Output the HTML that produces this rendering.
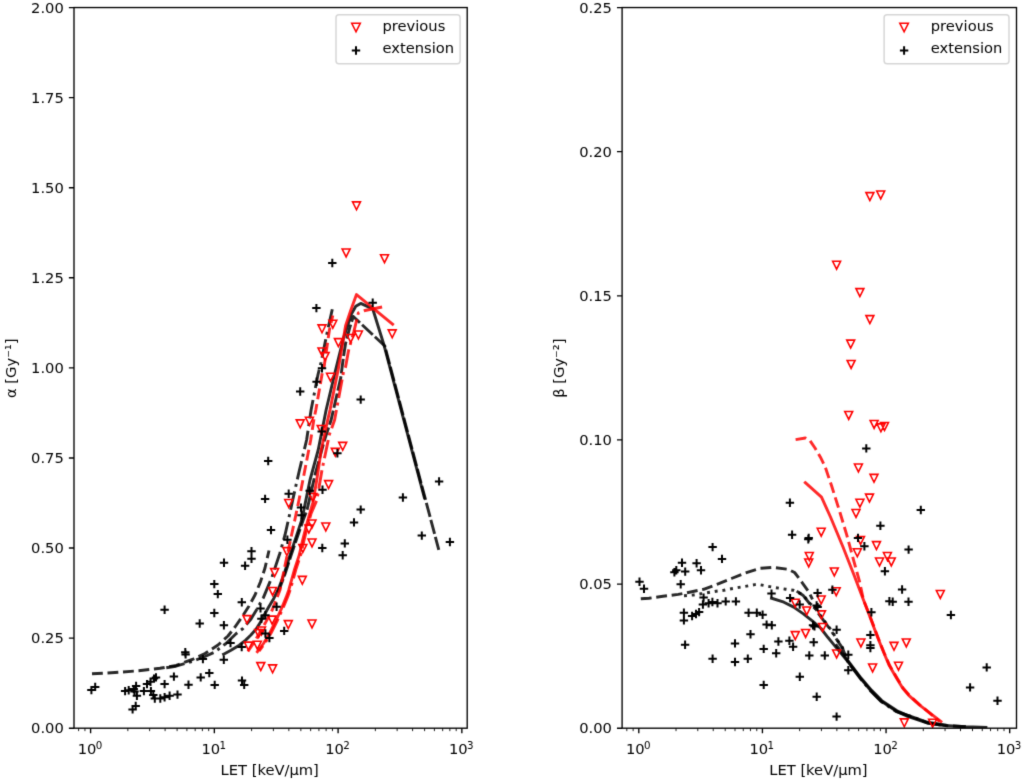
<!DOCTYPE html>
<html><head><meta charset="utf-8"><title>alpha beta vs LET</title>
<style>html,body{margin:0;padding:0;background:#fff;}svg{display:block;}</style></head>
<body><svg width="1025" height="781" viewBox="0 0 1025 781">
<filter id="soft" x="0" y="0" width="1" height="1" color-interpolation-filters="sRGB"><feConvolveMatrix order="3" kernelMatrix="0.0144 0.0912 0.0144 0.0912 0.5776 0.0912 0.0144 0.0912 0.0144" edgeMode="duplicate"/></filter>
<g filter="url(#soft)">
<rect x="0" y="0" width="1025" height="781" fill="#fff"/>
<clipPath id="clipL"><rect x="74" y="7.55" width="393.2" height="720.65"/></clipPath>
<g clip-path="url(#clipL)" fill="none" stroke-width="2.93" stroke-linejoin="round">
<path d="M92 673.8 L115 672.5 L138.7 670.8 L160 668.3 L176.2 665.4 L192.3 659.5 L205 653.5 L218 645 L228 636 L235 627 L242 617 L249 606 L255 595 L260.4 582 L265 568 L269 550.5" stroke="#000000" stroke-opacity="0.84" stroke-dasharray="10.84,4.69" stroke-linecap="butt"/>
<path d="M163 668.3 L176 666.2 L192 661.5 L205 656.5 L214 652.5 L226 643.5 L236.3 633.5 L243 628.5 L251 619 L257 609 L263.4 597.6 L272 577 L279.8 553.5 L285 535 L289.2 516.3 L292.7 500 L299 472 L306.6 440 L311.1 410 L317.9 375 L321 362.6 L325.6 340.1 L327.7 330 L332.3 309.3" stroke="#000000" stroke-opacity="0.84" stroke-dasharray="18.75,4.69,2.93,4.69" stroke-dashoffset="27.76" stroke-linecap="butt"/>
<path d="M223.6 654.2 L231 650.3 L239.3 645.2 L245.7 640.1 L250.9 635 L256 629.2 L259.8 623.4 L264.9 613.8 L268.7 607 L273.8 598.4 L278.5 589 L284.2 573.7 L290 555.3 L296.9 534.6 L301.5 520.7 L303.5 511.7 L310 480 L318.2 450 L326.1 410 L335.6 370 L343.5 338 L351.7 313.4 L355.8 306.3 L360.7 303.4 L372.7 308.8 L384.2 345.8 L424.4 497.8" stroke="#000000" stroke-opacity="0.84" stroke-linecap="square"/>
<path d="M276.6 594.5 L279.3 589.2 L285 574 L291 555.5 L298 535 L303 520.5 L307.1 509.7 L315 475 L324.5 440 L331.1 420 L340.7 378.2 L343.5 356.5 L345.6 343.2 L349.7 327.8 L353.3 316.5 L384.8 346 L438.8 549.9" stroke="#000000" stroke-opacity="0.84" stroke-dasharray="14.65,2.93" stroke-dashoffset="15.3" stroke-linecap="butt"/>
<path d="M247.9 651.5 L253.3 643.4 L261.4 630 L265.9 621.9 L272.1 610.2 L280 590 L286 560.7 L294.8 520 L299 500 L310.7 440 L313.8 420 L315.8 410 L322.8 370 L324.1 366.7 L329.4 330 L332.8 315.5" stroke="#ff0000" stroke-opacity="0.84" stroke-dasharray="10.84,4.69" stroke-linecap="butt"/>
<path d="M257.4 651.7 L263.5 643.5 L269.7 633.2 L275.8 621 L281 609.7 L286.1 597.4 L288.8 590 L294.6 569.1 L299.2 555.3 L302.6 540.3 L306.1 526.5 L309.6 513.8 L313 502.3 L316.9 479 L321.2 450 L327.7 420 L330 410 L338.1 370 L345.6 325.7 L350.7 310.4 L356.5 294.6 L392.6 324.2" stroke="#ff0000" stroke-opacity="0.84" stroke-linecap="square"/>
<path d="M259 651 L265 643 L271.2 632.8 L277.3 620.6 L282.5 609.3 L287.6 597 L290.3 589.6 L296.1 568.7 L300.7 554.9 L304.1 539.9 L307.6 526.1 L311.1 513.4 L316.9 500 L322 470 L327.6 443.1 L329.4 434.5 L334.6 420 L343.3 373.1 L345.6 366.7 L348.6 350.3 L353.8 331.9 L358.4 312.9 L365 310.5 L382.7 306.9" stroke="#ff0000" stroke-opacity="0.84" stroke-dasharray="18.75,4.69,2.93,4.69" stroke-dashoffset="12.2" stroke-linecap="butt"/>
</g>
<g clip-path="url(#clipL)">
<path d="M356.5 209.75L352.55 201.85L360.45 201.85ZM346.1 256.95L342.15 249.05L350.05 249.05ZM384.5 262.65L380.55 254.75L388.45 254.75ZM322 332.75L318.05 324.85L325.95 324.85ZM332.8 328.15L328.85 320.25L336.75 320.25ZM322 355.85L318.05 347.95L325.95 347.95ZM325.1 360.45L321.15 352.55L329.05 352.55ZM338.4 346.55L334.45 338.65L342.35 338.65ZM350.7 342.45L346.75 334.55L354.65 334.55ZM358.4 338.95L354.45 331.05L362.35 331.05ZM392.2 337.75L388.25 329.85L396.15 329.85ZM330.5 381.15L326.55 373.25L334.45 373.25ZM300.2 427.75L296.25 419.85L304.15 419.85ZM309.4 425.15L305.45 417.25L313.35 417.25ZM321.2 433.35L317.25 425.45L325.15 425.45ZM342.7 450.25L338.75 442.35L346.65 442.35ZM335.3 456.25L331.35 448.35L339.25 448.35ZM328.6 488.55L324.65 480.65L332.55 480.65ZM312.8 501.35L308.85 493.45L316.75 493.45ZM288.7 507.45L284.75 499.55L292.65 499.55ZM325.8 530.95L321.85 523.05L329.75 523.05ZM312 527.95L308.05 520.05L315.95 520.05ZM308.9 533.05L304.95 525.15L312.85 525.15ZM312 546.85L308.05 538.95L315.95 538.95ZM302.8 552.45L298.85 544.55L306.75 544.55ZM286.9 555.55L282.95 547.65L290.85 547.65ZM274.6 576.55L270.65 568.65L278.55 568.65ZM302.3 584.25L298.35 576.35L306.25 576.35ZM272.6 595.35L268.65 587.45L276.55 587.45ZM247 623.55L243.05 615.65L250.95 615.65ZM272.1 624.05L268.15 616.15L276.05 616.15ZM288.3 628.55L284.35 620.65L292.25 620.65ZM258.7 637.45L254.75 629.55L262.65 629.55ZM261.5 634.95L257.55 627.05L265.45 627.05ZM248.4 650.05L244.45 642.15L252.35 642.15ZM257.3 649.15L253.35 641.25L261.25 641.25ZM260.8 670.55L256.85 662.65L264.75 662.65ZM272.6 672.75L268.65 664.85L276.55 664.85ZM312 627.95L308.05 620.05L315.95 620.05Z" fill="none" stroke="#ff0000" stroke-width="1.6" stroke-linejoin="miter"/>
<path d="M87.2 690.1H95.6M91.4 685.9V694.3M91 686.9H99.4M95.2 682.7V691.1M120.9 691.1H129.3M125.1 686.9V695.3M124.5 690.3H132.9M128.7 686.1V694.5M129.5 689.1H137.9M133.7 684.9V693.3M131.9 686H140.3M136.1 681.8V690.2M130.3 691.5H138.7M134.5 687.3V695.7M132.7 695.8H141.1M136.9 691.6V700M128.4 709.4H136.8M132.6 705.2V713.6M131.5 705.9H139.9M135.7 701.7V710.1M139.7 691.1H148.1M143.9 686.9V695.3M142.8 684.1H151.2M147 679.9V688.3M146.3 681.7H154.7M150.5 677.5V685.9M149.8 678.6H158.2M154 674.4V682.8M151.8 677.4H160.2M156 673.2V681.6M146.7 691.1H155.1M150.9 686.9V695.3M149.1 695H157.5M153.3 690.8V699.2M150.6 698.5H159M154.8 694.3V702.7M156.1 698.5H164.5M160.3 694.3V702.7M160.4 697.3H168.8M164.6 693.1V701.5M165.4 695.8H173.8M169.6 691.6V700M173.3 694.6H181.7M177.5 690.4V698.8M160.4 684.1H168.8M164.6 679.9V688.3M169.7 676.6H178.1M173.9 672.4V680.8M184.3 684.8H192.7M188.5 680.6V689M181.1 652.3H189.5M185.3 648.1V656.5M181.4 654.4H189.8M185.6 650.2V658.6M160.4 609.8H168.8M164.6 605.6V614M195.5 623.5H203.9M199.7 619.3V627.7M210.1 584.1H218.5M214.3 579.9V588.3M213.6 594.1H222M217.8 589.9V598.3M210.1 613H218.5M214.3 608.8V617.2M219.8 562.8H228.2M224 558.6V567M240.9 565.8H249.3M245.1 561.6V570M247.3 551.3H255.7M251.5 547.1V555.5M247.3 558.7H255.7M251.5 554.5V562.9M237.6 602.2H246M241.8 598V606.4M219.7 625.3H228.1M223.9 621.1V629.5M256.3 608.4H264.7M260.5 604.2V612.6M261.2 615.2H269.6M265.4 611V619.4M257.2 618.8H265.6M261.4 614.6V623M272.4 606.7H280.8M276.6 602.5V610.9M280 630.9H288.4M284.2 626.7V635.1M261.2 633.5H269.6M265.4 629.3V637.7M265.2 638H273.6M269.4 633.8V642.2M226.3 643H234.7M230.5 638.8V647.2M237.5 647H245.9M241.7 642.8V651.2M198.7 659.1H207.1M202.9 654.9V663.3M219.6 659.7H228M223.8 655.5V663.9M196.5 677.4H204.9M200.7 673.2V681.6M205.1 673.1H213.5M209.3 668.9V677.3M210.5 684.9H218.9M214.7 680.7V689.1M237.8 680.6H246.2M242 676.4V684.8M240 684.9H248.4M244.2 680.7V689.1M260.9 498.9H269.3M265.1 494.7V503.1M264 461H272.4M268.2 456.8V465.2M284.5 493.8H292.9M288.7 489.6V498M296 391.5H304.4M300.2 387.3V395.7M305.5 490.7H313.9M309.7 486.5V494.9M318.3 489.7H326.7M322.5 485.5V493.9M312.4 381.8H320.8M316.6 377.6V386M296.8 507.6H305.2M301 503.4V511.8M297.3 515.3H305.7M301.5 511.1V519.5M283.2 539.8H291.6M287.4 535.6V544M266.8 530.1H275.2M271 525.9V534.3M318.1 548H326.5M322.3 543.8V552.2M340.6 543.4H349M344.8 539.2V547.6M338.5 555.2H346.9M342.7 551V559.4M349.8 522.4H358.2M354 518.2V526.6M356.5 509.6H364.9M360.7 505.4V513.8M333.2 453.3H341.6M337.4 449.1V457.5M317.5 431.5H325.9M321.7 427.3V435.7M317.8 368.3H326.2M322 364.1V372.5M312.2 308.1H320.6M316.4 303.9V312.3M328.1 263H336.5M332.3 258.8V267.2M368.5 302.7H376.9M372.7 298.5V306.9M356.5 399.6H364.9M360.7 395.4V403.8M398.7 497.5H407.1M402.9 493.3V501.7M434.9 481.4H443.3M439.1 477.2V485.6M417.6 535.6H426M421.8 531.4V539.8M445.7 542H454.1M449.9 537.8V546.2" fill="none" stroke="#000" stroke-width="2.0"/>
</g>
<rect x="74" y="7.55" width="393.2" height="720.65" fill="none" stroke="#000" stroke-width="1.35" stroke-linejoin="miter"/>
<path d="M90.6 728.2V733.33M214.35 728.2V733.33M338.1 728.2V733.33M461.85 728.2V733.33M74 728.2H68.87M74 638.12H68.87M74 548.04H68.87M74 457.96H68.87M74 367.88H68.87M74 277.79H68.87M74 187.71H68.87M74 97.63H68.87M74 7.55H68.87" stroke="#000" stroke-width="1.35"/>
<path d="M78.61 728.2V731.13M84.94 728.2V731.13M127.85 728.2V731.13M149.64 728.2V731.13M165.1 728.2V731.13M177.1 728.2V731.13M186.9 728.2V731.13M195.18 728.2V731.13M202.36 728.2V731.13M208.69 728.2V731.13M251.6 728.2V731.13M273.39 728.2V731.13M288.85 728.2V731.13M300.85 728.2V731.13M310.65 728.2V731.13M318.93 728.2V731.13M326.11 728.2V731.13M332.44 728.2V731.13M375.35 728.2V731.13M397.14 728.2V731.13M412.6 728.2V731.13M424.6 728.2V731.13M434.4 728.2V731.13M442.68 728.2V731.13M449.86 728.2V731.13M456.19 728.2V731.13" stroke="#000" stroke-width="0.88"/>
<g font-family="DejaVu Sans, Liberation Sans, sans-serif" font-size="14.7" fill="#000">
<text x="63.8" y="733.3" text-anchor="end">0.00</text>
<text x="63.8" y="643.22" text-anchor="end">0.25</text>
<text x="63.8" y="553.14" text-anchor="end">0.50</text>
<text x="63.8" y="463.06" text-anchor="end">0.75</text>
<text x="63.8" y="372.98" text-anchor="end">1.00</text>
<text x="63.8" y="282.89" text-anchor="end">1.25</text>
<text x="63.8" y="192.81" text-anchor="end">1.50</text>
<text x="63.8" y="102.73" text-anchor="end">1.75</text>
<text x="63.8" y="12.65" text-anchor="end">2.00</text>
<text x="90" y="753.7" text-anchor="middle">10<tspan font-size="10.29" dx="-0.6" dy="-4.8">0</tspan></text>
<text x="213.75" y="753.7" text-anchor="middle">10<tspan font-size="10.29" dx="-0.6" dy="-4.8">1</tspan></text>
<text x="337.5" y="753.7" text-anchor="middle">10<tspan font-size="10.29" dx="-0.6" dy="-4.8">2</tspan></text>
<text x="461.25" y="753.7" text-anchor="middle">10<tspan font-size="10.29" dx="-0.6" dy="-4.8">3</tspan></text>
<text x="269.7" y="775.4" text-anchor="middle">LET [keV/μm]</text>
<text transform="translate(16.2 368.25) rotate(-90)" x="0" y="0" text-anchor="middle">α [Gy⁻¹]</text>
</g>
<rect x="336" y="14.8" width="124.1" height="48.85" rx="2.94" ry="2.94" fill="#fff" fill-opacity="0.8" stroke="#d6d6d6" stroke-width="1.47"/>
<path d="M356 31.75L351.75 23.25L360.25 23.25Z" fill="none" stroke="#ff0000" stroke-width="1.6"/>
<path d="M351.8 50.5H360.2M356 46.3V54.7" fill="none" stroke="#000" stroke-width="2.0"/>
<g font-family="DejaVu Sans, Liberation Sans, sans-serif" font-size="14.7" fill="#000">
<text x="382.5" y="31.0">previous</text>
<text x="382.5" y="53.0">extension</text>
</g>
<clipPath id="clipR"><rect x="622.1" y="7.55" width="394.4" height="720.65"/></clipPath>
<g clip-path="url(#clipR)" fill="none" stroke-width="2.93" stroke-linejoin="round">
<path d="M836.5 645.5 L848.8 662 L861.2 678.3 L871.6 690.4 L881.8 700.6 L897 710.8 L908 715.5 L927.6 722.3 L945 725" stroke="#000000" stroke-opacity="0.84" stroke-linecap="square"/>
<path d="M640.8 598.8 L649 598.2 L663 596.3 L678.2 594.4 L688.3 592.5 L703.6 589.3 L718.8 583.6 L731.5 578.5 L744.1 573.5 L759.4 568.4 L772.8 567.4 L788.2 569.3 L794.6 572.5 L802.3 582.8 L808.7 591.7 L812.5 599.4" stroke="#000000" stroke-opacity="0.84" stroke-dasharray="10.84,4.69" stroke-linecap="butt"/>
<path d="M684 595.7 L693.4 595 L701 593.8 L716.2 591.2 L723.8 590.3 L731.5 588.7 L739.1 587.4 L746.7 586.1 L754.9 584.6 L760 584.7 L772.8 587.2 L785.6 589.2 L793.1 590.2 L802.9 594.7 L810.1 603.7 L814.6 607.3 L820.9 616.2 L826.2 623.4 L831.6 630.6 L837 639.5 L842.4 647.4 L848.3 662.5" stroke="#000000" stroke-opacity="0.84" stroke-dasharray="2.93,4.83" stroke-linecap="butt"/>
<path d="M796.7 591.1 L802.9 595.2 L810.1 604.2 L814.6 608 L820.9 616.8 L826.2 624 L831.6 631.2 L837 640 L842.4 648 L848.3 662.5 L860.6 678.9 L870.9 691.2 L881.1 701.5 L896.5 711.7 L915 717.8 L927.6 723 L944.3 725.5 L965.9 726.7" stroke="#000000" stroke-opacity="0.84" stroke-dasharray="18.75,4.69,2.93,4.69" stroke-linecap="butt"/>
<path d="M771.6 598.2 L783.9 602.2 L793.7 607.1 L803.4 613.9 L813.2 621.7 L821 628.5 L827.8 637.3 L833.6 644.4 L848.3 662.1 L860.6 678.4 L870.9 690.8 L881.1 701.1 L896.5 711.4 L907.6 716.3 L927.6 723 L944.3 725.5 L965.9 726.7 L985.9 727.3" stroke="#000000" stroke-opacity="0.84" stroke-linecap="square"/>
<path d="M805.3 482.7 L821.5 497.2 L830.5 517 L843 547 L854 575 L863.5 600 L870 617 L877.5 637 L883.5 652 L889.3 665.6 L896.5 677.9 L902.6 688.1 L908.8 695.3 L919.3 704.9 L940.9 721.5" stroke="#ff0000" stroke-opacity="0.84" stroke-linecap="square"/>
<path d="M795.6 439.6 L805.4 438 L810 440.7 L815 448 L820.3 456.9 L824.9 466.1 L831.9 486.8 L839.9 512.2 L846.8 535.2 L853.7 560.6 L859.5 581.3 L863.5 600 L870.5 617.5 L878 637.5 L884 652.5 L889.8 665.8 L897 678 L903 688 L909 695 L919.5 704.5 L939.5 721.3" stroke="#ff0000" stroke-opacity="0.84" stroke-dasharray="10.84,4.69" stroke-linecap="butt"/>
</g>
<g clip-path="url(#clipR)">
<path d="M869.9 200.55L865.95 192.65L873.85 192.65ZM880.7 198.95L876.75 191.05L884.65 191.05ZM836.6 269.15L832.65 261.25L840.55 261.25ZM859.9 296.55L855.95 288.65L863.85 288.65ZM869.9 323.55L865.95 315.65L873.85 315.65ZM850.7 348.05L846.75 340.15L854.65 340.15ZM851.1 368.35L847.15 360.45L855.05 360.45ZM848.7 419.35L844.75 411.45L852.65 411.45ZM874.1 428.35L870.15 420.45L878.05 420.45ZM880.9 431.75L876.95 423.85L884.85 423.85ZM884.5 430.45L880.55 422.55L888.45 422.55ZM858.4 471.95L854.45 464.05L862.35 464.05ZM874 482.25L870.05 474.35L877.95 474.35ZM869.5 502.05L865.55 494.15L873.45 494.15ZM859.9 507.15L855.95 499.25L863.85 499.25ZM856 517.45L852.05 509.55L859.95 509.55ZM821.2 536.15L817.25 528.25L825.15 528.25ZM809.3 560.45L805.35 552.55L813.25 552.55ZM808.7 566.85L804.75 558.95L812.65 558.95ZM834.3 575.85L830.35 567.95L838.25 567.95ZM836.2 595.65L832.25 587.75L840.15 587.75ZM821.2 603.95L817.25 596.05L825.15 596.05ZM795.2 607.15L791.25 599.25L799.15 599.25ZM806.7 614.85L802.75 606.95L810.65 606.95ZM821.5 618.75L817.55 610.85L825.45 610.85ZM860.5 544.45L856.55 536.55L864.45 536.55ZM857.3 556.65L853.35 548.75L861.25 548.75ZM876.5 549.55L872.55 541.65L880.45 541.65ZM879.5 565.95L875.55 558.05L883.45 558.05ZM887.4 560.45L883.45 552.55L891.35 552.55ZM795.3 639.55L791.35 631.65L799.25 631.65ZM805.6 637.35L801.65 629.45L809.55 629.45ZM822.6 631.45L818.65 623.55L826.55 623.55ZM836.6 657.95L832.65 650.05L840.55 650.05ZM860.9 646.95L856.95 639.05L864.85 639.05ZM872.6 671.95L868.65 664.05L876.55 664.05ZM894 650.25L890.05 642.35L897.95 642.35ZM906.3 646.85L902.35 638.95L910.25 638.95ZM898.5 670.15L894.55 662.25L902.45 662.25ZM904.3 726.75L900.35 718.85L908.25 718.85ZM932.6 727.15L928.65 719.25L936.55 719.25ZM891.3 565.85L887.35 557.95L895.25 557.95ZM940.3 598.45L936.35 590.55L944.25 590.55Z" fill="none" stroke="#ff0000" stroke-width="1.6" stroke-linejoin="miter"/>
<path d="M635.3 581.7H643.7M639.5 577.5V585.9M639.8 588.7H648.2M644 584.5V592.9M677.8 562.7H686.2M682 558.5V566.9M670.2 572.2H678.6M674.4 568V576.4M672.1 570.3H680.5M676.3 566.1V574.5M681 571.6H689.4M685.2 567.4V575.8M692.4 563.3H700.8M696.6 559.1V567.5M696.8 570.3H705.2M701 566.1V574.5M676.5 584.2H684.9M680.7 580V588.4M717.8 558.9H726.2M722 554.7V563.1M679.7 612.8H688.1M683.9 608.6V617M679.7 620.4H688.1M683.9 616.2V624.6M687.9 616H696.3M692.1 611.8V620.2M691.8 614H700.2M696 609.8V618.2M694.9 612.1H703.3M699.1 607.9V616.3M699.4 597.6H707.8M703.6 593.4V601.8M698.7 604.5H707.1M702.9 600.3V608.7M704.4 603.3H712.8M708.6 599.1V607.5M708.2 602H716.6M712.4 597.8V606.2M713.3 603.3H721.7M717.5 599.1V607.5M721.5 601.4H729.9M725.7 597.2V605.6M731.7 601.4H740.1M735.9 597.2V605.6M744.4 612.8H752.8M748.6 608.6V617M752.6 612.8H761M756.8 608.6V617M746.3 634.3H754.7M750.5 630.1V638.5M680.9 644.7H689.3M685.1 640.5V648.9M708.4 658.8H716.8M712.6 654.6V663M730.8 643.4H739.2M735 639.2V647.6M730.8 662H739.2M735 657.8V666.2M743.6 658.8H752M747.8 654.6V663M708.4 547.1H716.8M712.6 542.9V551.3M785.7 502.7H794.1M789.9 498.5V506.9M787.9 534.7H796.3M792.1 530.5V538.9M862.1 448.4H870.5M866.3 444.2V452.6M804.5 537.9H812.9M808.7 533.7V542.1M804.1 539.3H812.5M808.3 535.1V543.5M853.8 537.9H862.2M858 533.7V542.1M860.2 546.3H868.6M864.4 542.1V550.5M876.2 525.8H884.6M880.4 521.6V530M880.7 571.2H889.1M884.9 567V575.4M767.3 593.6H775.7M771.5 589.4V597.8M785.9 598.1H794.3M790.1 593.9V602.3M795.5 604.5H803.9M799.7 600.3V608.7M813.4 593H821.8M817.6 588.8V597.2M828.2 589.8H836.6M832.4 585.6V594M813.4 607.1H821.8M817.6 602.9V611.3M812.4 605.4H820.8M816.6 601.2V609.6M758.4 614.8H766.8M762.6 610.6V619M867.2 612.2H875.6M871.4 608V616.4M885.2 601.3H893.6M889.4 597.1V605.5M762.4 624.6H770.8M766.6 620.4V628.8M767.6 625.3H776M771.8 621.1V629.5M774.2 641.5H782.6M778.4 637.3V645.7M785.2 640.8H793.6M789.4 636.6V645M788.9 646.7H797.3M793.1 642.5V650.9M759.5 648.9H767.9M763.7 644.7V653.1M772 653.3H780.4M776.2 649.1V657.5M808.8 625.3H817.2M813 621.1V629.5M810.3 626.4H818.7M814.5 622.2V630.6M809.5 642.2H817.9M813.7 638V646.4M805.1 655.5H813.5M809.3 651.3V659.7M820.6 655.5H829M824.8 651.3V659.7M832.4 629.7H840.8M836.6 625.5V633.9M844.1 654.8H852.5M848.3 650.6V659M844.1 670.2H852.5M848.3 666V674.4M866.2 634.9H874.6M870.4 630.7V639.1M866.2 645.2H874.6M870.4 641V649.4M866.2 648.1H874.6M870.4 643.9V652.3M795.6 676.8H804M799.8 672.6V681M759.5 684.9H767.9M763.7 680.7V689.1M812.5 696.7H820.9M816.7 692.5V700.9M832.4 716.6H840.8M836.6 712.4V720.8M888.5 601.7H896.9M892.7 597.5V605.9M904.3 601.7H912.7M908.5 597.5V605.9M946.7 615H955.1M950.9 610.8V619.2M982.5 667.4H990.9M986.7 663.2V671.6M965.9 687.4H974.3M970.1 683.2V691.6M993.3 700.7H1001.7M997.5 696.5V704.9M916.6 510H925M920.8 505.8V514.2M904.4 549.6H912.8M908.6 545.4V553.8M897.9 589.5H906.3M902.1 585.3V593.7" fill="none" stroke="#000" stroke-width="2.0"/>
</g>
<rect x="622.1" y="7.55" width="394.4" height="720.65" fill="none" stroke="#000" stroke-width="1.35" stroke-linejoin="miter"/>
<path d="M638.8 728.2V733.33M762.43 728.2V733.33M886.06 728.2V733.33M1009.69 728.2V733.33M622.1 728.2H616.97M622.1 584.07H616.97M622.1 439.94H616.97M622.1 295.81H616.97M622.1 151.68H616.97M622.1 7.55H616.97" stroke="#000" stroke-width="1.35"/>
<path d="M626.82 728.2V731.13M633.14 728.2V731.13M676.02 728.2V731.13M697.79 728.2V731.13M713.23 728.2V731.13M725.21 728.2V731.13M735 728.2V731.13M743.28 728.2V731.13M750.45 728.2V731.13M756.77 728.2V731.13M799.65 728.2V731.13M821.42 728.2V731.13M836.86 728.2V731.13M848.84 728.2V731.13M858.63 728.2V731.13M866.91 728.2V731.13M874.08 728.2V731.13M880.4 728.2V731.13M923.28 728.2V731.13M945.05 728.2V731.13M960.49 728.2V731.13M972.47 728.2V731.13M982.26 728.2V731.13M990.54 728.2V731.13M997.71 728.2V731.13M1004.03 728.2V731.13" stroke="#000" stroke-width="0.88"/>
<g font-family="DejaVu Sans, Liberation Sans, sans-serif" font-size="14.7" fill="#000">
<text x="611.9" y="733.3" text-anchor="end">0.00</text>
<text x="611.9" y="589.17" text-anchor="end">0.05</text>
<text x="611.9" y="445.04" text-anchor="end">0.10</text>
<text x="611.9" y="300.91" text-anchor="end">0.15</text>
<text x="611.9" y="156.78" text-anchor="end">0.20</text>
<text x="611.9" y="12.65" text-anchor="end">0.25</text>
<text x="638.2" y="753.7" text-anchor="middle">10<tspan font-size="10.29" dx="-0.6" dy="-4.8">0</tspan></text>
<text x="761.83" y="753.7" text-anchor="middle">10<tspan font-size="10.29" dx="-0.6" dy="-4.8">1</tspan></text>
<text x="885.46" y="753.7" text-anchor="middle">10<tspan font-size="10.29" dx="-0.6" dy="-4.8">2</tspan></text>
<text x="1009.09" y="753.7" text-anchor="middle">10<tspan font-size="10.29" dx="-0.6" dy="-4.8">3</tspan></text>
<text x="818.4" y="775.4" text-anchor="middle">LET [keV/μm]</text>
<text transform="translate(564.4 368.25) rotate(-90)" x="0" y="0" text-anchor="middle">β [Gy⁻²]</text>
</g>
<rect x="884.1" y="14.8" width="124.9" height="48.85" rx="2.94" ry="2.94" fill="#fff" fill-opacity="0.8" stroke="#d6d6d6" stroke-width="1.47"/>
<path d="M904.1 31.75L899.85 23.25L908.35 23.25Z" fill="none" stroke="#ff0000" stroke-width="1.6"/>
<path d="M899.9 50.5H908.3M904.1 46.3V54.7" fill="none" stroke="#000" stroke-width="2.0"/>
<g font-family="DejaVu Sans, Liberation Sans, sans-serif" font-size="14.7" fill="#000">
<text x="930.8" y="31.0">previous</text>
<text x="930.8" y="53.0">extension</text>
</g>
</g>
</svg></body></html>
